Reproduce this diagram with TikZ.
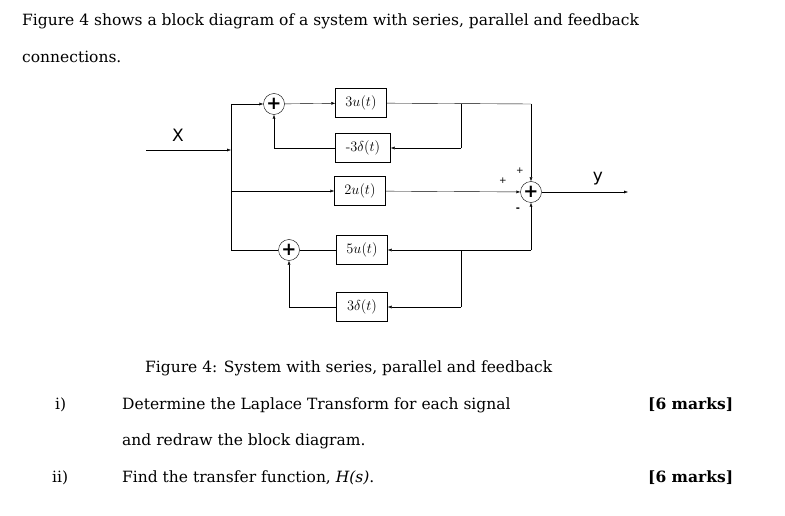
\documentclass[tikz,border=0pt]{standalone}
\usepackage{fontspec}
\newfontfamily\tf{DejaVu Serif}
\newfontfamily\dsans{DejaVu Sans}
\usetikzlibrary{arrows.meta}
\begin{document}
\begin{tikzpicture}[x=1pt,y=-1pt,
 blk/.style={draw,thin,minimum width=51pt,minimum height=29pt,inner sep=0pt,font=\fontsize{14}{16}\selectfont},
 sm/.style={draw,thin,circle,minimum size=21pt,inner sep=0pt,font=\dsans\bfseries\fontsize{18}{18}\selectfont},
 ar/.style={-{Latex[length=4pt,width=3pt]}},
 ln/.style={thin},
 txt/.style={anchor=base west,inner sep=0pt,font=\tf\fontsize{15.5}{18}\selectfont}]
\useasboundingbox (0,0) rectangle (785,516);
\node[txt] (t1) at (22,26) {Figure 4 shows a block diagram of a system with series, parallel and feedback};
\node[txt] (t2) at (22,63) {connections.};
\node[txt] (cap) at (145,372) {Figure 4: System with series, parallel and feedback};
\node[txt] (i) at (55,409) {i)};
\node[txt] (q1) at (122,409) {Determine the Laplace Transform for each signal};
\node[txt] (m1) at (648,409) {\bfseries [6 marks]};
\node[txt] (q1b) at (122,445) {and redraw the block diagram.};
\node[txt] (ii) at (52,482) {ii)};
\node[txt] (q2) at (122,482) {Find the transfer function, \textit{H(s)}.};
\node[txt] (m2) at (648,482) {\bfseries [6 marks]};
% diagram
\coordinate (in) at (146,150);
\coordinate (j) at (231,150);
\coordinate (jt) at (231,104);
\coordinate (jm) at (231,191);
\coordinate (jb) at (231,250);
\node[font=\dsans\fontsize{17}{17}\selectfont] (X) at (178,135) {X};
\node[sm] (s1) at (274,104) {+};
\node[blk] (b1) at (361,103) {$3u(t)$};
\node[blk,minimum width=55pt] (b2) at (363,148) {$\textrm{-}3\delta(t)$};
\node[blk] (b3) at (360,191) {$2u(t)$};
\node[sm] (S) at (531,192) {+};
\node[sm] (s2) at (289,250) {+};
\node[blk] (b4) at (362,250) {$5u(t)$};
\node[blk] (b5) at (362,307) {$3\delta(t)$};
\node[font=\dsans\fontsize{17}{17}\selectfont] (Y) at (598,179) {y};
\coordinate (out) at (628,192);
\node[font=\dsans\small] (p1) at (503,181) {+};
\node[font=\dsans\small] (p2) at (520,171) {+};
\node[font=\dsans\bfseries] (m) at (518,210) {-};
\coordinate (r1) at (461,104);
\coordinate (r1b) at (461,148);
\coordinate (c1) at (531,104);
\coordinate (r2) at (461,250);
\coordinate (r2b) at (461,307);
\coordinate (c2) at (531,250);
\draw[ar] (in) -- (j);
\draw[ln] (jt) -- (jb);
\draw[ar] (jt) -- (s1);
\draw[ar] (s1) -- (b1);
\draw[ln] (b1) -- (c1);
\draw[ar] (c1) -- (S);
\draw[ln] (r1) -- (r1b);
\draw[ar] (r1b) -- (b2);
\draw[ar] (b2.west) -| (s1);
\draw[ar] (jm) -- (b3);
\draw[ar] (b3) -- (S);
\draw[ar] (S) -- (out);
\draw[ln] (jb) -- (s2);
\draw[ln] (s2) -- (b4);
\draw[ar] (r2) -- (b4);
\draw[ln] (r2) -- (c2);
\draw[ar] (c2) -- (S);
\draw[ln] (r2) -- (r2b);
\draw[ar] (r2b) -- (b5);
\draw[ar] (b5.west) -| (s2);
\end{tikzpicture}
\end{document}
